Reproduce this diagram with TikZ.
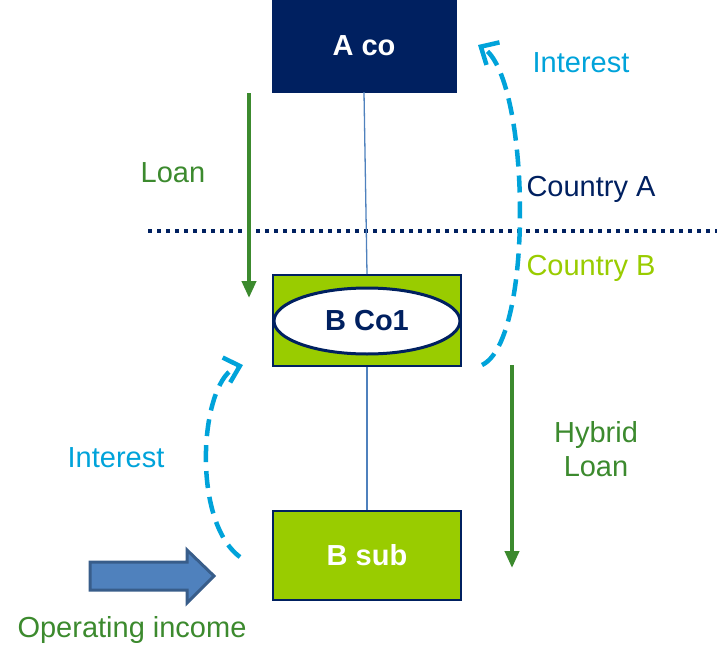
\documentclass[tikz,border=0pt]{standalone}
\usepackage{fontspec}
\setmainfont{Liberation Sans}
\usetikzlibrary{arrows.meta,shapes.geometric}
\definecolor{navy}{HTML}{002060}
\definecolor{lgreen}{HTML}{99CC00}
\definecolor{dgreen}{HTML}{3C8A2E}
\definecolor{sky}{HTML}{00A3DA}
\definecolor{steel}{HTML}{4F81BD}
\definecolor{steeldark}{HTML}{385D8A}
\begin{document}
\begin{tikzpicture}[x=1pt,y=-1pt,
  lbl/.style={font=\fontsize{29}{34}\selectfont, inner sep=0, text height=21pt, text depth=0pt},
  boxtxt/.style={font=\fontsize{29}{34}\selectfont\bfseries},
  greenbox/.style={draw=navy, line width=2, fill=lgreen, inner sep=0, minimum width=188, text=white},
  thinline/.style={steel, line width=1.3},
  loanarrow/.style={dgreen, line width=4, -{Triangle[length=17pt,width=14pt]}},
  flowarrow/.style={sky, line width=4.5, dash pattern=on 17 off 9, -{Straight Barb[length=14pt,width=26pt,line width=4.5pt]}},
]
\useasboundingbox (0,0) rectangle (717,661);

% border line
\coordinate (bl) at (148,231);
\coordinate (br) at (717,231);
\draw[navy, line width=4, dash pattern=on 4 off 5] (bl) -- (br);

% boxes
\node[draw=navy, fill=navy, minimum width=184, minimum height=92, inner sep=0, text=white, boxtxt] (aco) at (364,46) {A co};
\node[greenbox, minimum height=91] (bco1box) at (367,320.5) {};
\node[ellipse, draw=navy, line width=3, fill=white, minimum width=186, minimum height=66, inner sep=0, text=navy, boxtxt] (bco1) at (367,321) {B Co1};
\node[greenbox, minimum height=89, boxtxt] (bsub) at (367,555.5) {B sub};

% ownership lines
\draw[thinline] (aco.south) -- (bco1box.north);
\draw[thinline] (bco1box.south) -- (bsub.north);

% loans
\coordinate (l1) at (249,93);
\coordinate (l2) at (249,298);
\draw[loanarrow] (l1) -- (l2);
\coordinate (h1) at (512,365);
\coordinate (h2) at (512,568);
\draw[loanarrow] (h1) -- (h2);

% interest flows
\coordinate (i1s) at (482,365);
\coordinate (i1e) at (478,45);
\draw[flowarrow] (i1s) .. controls (535,340) and (530,75) .. (i1e);
\coordinate (i2s) at (240,557);
\coordinate (i2e) at (243,365);
\draw[flowarrow] (i2s) .. controls (190,520) and (200,378) .. (i2e);

% operating income arrow
\draw[fill=steel, draw=steeldark, line width=3, line join=miter]
  (90,562) -- (187,562) -- (187,550) -- (214,576) -- (187,603) -- (187,590) -- (90,590) -- cycle;

% labels
\node[lbl, text=dgreen] (loan) at (173,172) {Loan};
\node[lbl, text=sky] (int1) at (581,62) {Interest};
\node[lbl, text=sky] (int2) at (116,457) {Interest};
\node[lbl, text=navy] (ca) at (591,186) {Country A};
\node[lbl, text=lgreen] (cb) at (591,265) {Country B};
\node[font=\fontsize{29}{34}\selectfont, inner sep=0, text=dgreen, align=center] (hyb) at (596,449) {Hybrid\\Loan};
\node[lbl, text=dgreen] (opinc) at (132,627) {Operating income};
\end{tikzpicture}
\end{document}
